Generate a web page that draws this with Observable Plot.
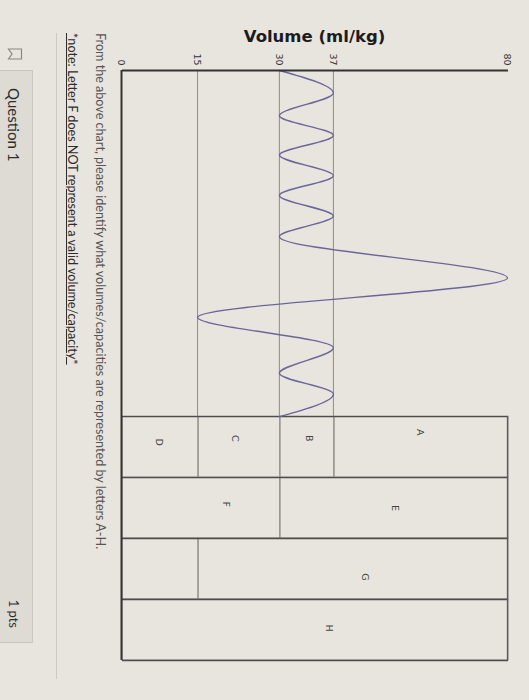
<!DOCTYPE html>
<html>
<head>
<meta charset="utf-8">
<script src="https://cdn.jsdelivr.net/npm/d3@7"></script>
<script src="https://cdn.jsdelivr.net/npm/@observablehq/plot@0.6"></script>
<style>
  html, body { margin: 0; padding: 0; width: 529px; height: 700px; overflow: hidden; background: #e7e4de; }
  #page {
    position: absolute; left: 0; top: 0; width: 700px; height: 529px;
    transform-origin: 0 0; transform: translate(529px, 0) rotate(90deg);
    background: #e8e5df; overflow: hidden;
    font-family: Lato, "Open Sans", sans-serif;
  }
  #chart { position: absolute; left: 0; top: 0; }
  #chart svg [aria-label="y-axis label"] { font-weight: bold; font-size: 16.5px; fill: #1c1c1c; }
  .q { position: absolute; left: 33px; font-size: 12.6px; line-height: 14px; white-space: nowrap; }
  #q1 { top: 422px; color: #555; }
  #q2 { top: 450px; color: #2d2d2d; text-decoration: underline; }
  #sep { position: absolute; left: 33px; top: 472px; width: 646px; height: 1px; background: #cdcac4; }
  #panel {
    position: absolute; left: 70px; top: 496px; width: 573px; height: 44px;
    background: #dedbd5; border: 1px solid #c9c6c0; box-sizing: border-box;
  }
  #qtitle { position: absolute; left: 17px; top: 9px; font-size: 15px; color: #2d2d2d; }
  #pts { position: absolute; right: 14px; top: 10px; font-size: 13px; color: #2d2d2d; }
  #mark { position: absolute; left: 47px; top: 506px; }
</style>
</head>
<body>
<div id="page">
  <div id="chart"></div>
  <div class="q" id="q1">From the above chart, please identify what volumes/capacities are represented by letters A-H.</div>
  <div class="q" id="q2">*note: Letter F does NOT represent a valid volume/capacity*</div>
  <div id="sep"></div>
  <svg id="mark" width="14" height="16" viewBox="0 0 14 16"><path d="M2 1.5 H12 V14.5 L7 11 L2 14.5 Z" fill="none" stroke="#8a8782" stroke-width="1.2"/></svg>
  <div id="panel"><span id="qtitle">Question 1</span><span id="pts">1 pts</span></div>
</div>
<script>
// Volume axis (ml/kg): tick values and their position along the schematic axis (0 = bottom, 1 = top)
const yTicks = [0, 15, 30, 37, 80];
const yTickFrac = [0, 0.197, 0.409, 0.549, 1];

// Spirogram trace: time (s) of each turning point and its volume
const traceTime   = [0, 2.3, 4.6, 6.6, 8.6, 10.7, 12.7, 14.8, 16.9, 21.1, 25.1, 28.2, 30.8, 32.9, 35.2];
const traceVolume = [30, 37, 30, 37, 30, 37, 30, 37, 30, 80, 15, 37, 30, 37, 30];

// Reference lines across the tracing
const gridVolume = [15, 30, 37];

// Volume / capacity boxes at the right
const columnEdge = [35.2, 41.4, 47.6, 53.8, 60];
const boxColumn  = [0, 0, 0, 0, 1, 1, 2, 2, 3];
const boxLow     = [0, 15, 30, 37, 0, 30, 0, 15, 0];
const boxHigh    = [15, 30, 37, 80, 30, 80, 15, 80, 80];

// Letters
const letters      = ["A", "B", "C", "D", "E", "F", "G", "H"];
const letterTime   = [36.8, 37.4, 37.4, 37.8, 44.5, 44.1, 51.5, 56.7];
const letterVolume = [58.3, 33.9, 21.8, 7.5, 52.3, 20.3, 44.7, 36.4];

const W = 700, H = 420, mt = 21, mb = 13, ml = 70, mr = 40;
const bottom = H - mb, span = H - mt - mb;
const yRange = yTickFrac.map(f => bottom - f * span);

const trace = traceTime.map((t, i) => ({t, v: traceVolume[i]}));
const boxes = boxColumn.map((c, i) => ({x1: columnEdge[c], x2: columnEdge[c + 1], y1: boxLow[i], y2: boxHigh[i]}));
const labels = letters.map((l, i) => ({l, t: letterTime[i], v: letterVolume[i]}));

const chart = Plot.plot({
  width: W, height: H,
  marginLeft: ml, marginRight: mr, marginTop: mt, marginBottom: mb,
  style: {fontFamily: "DejaVu Sans", fontSize: "9.5px", background: "transparent", color: "#333"},
  x: {domain: [0, 60], axis: null},
  y: {type: "linear", domain: yTicks, range: yRange, axis: null},
  marks: [
    Plot.ruleY(gridVolume, {x1: 0, x2: columnEdge[0], stroke: "#8c8c8c", strokeWidth: 1}),
    Plot.rect(boxes, {x1: "x1", x2: "x2", y1: "y1", y2: "y2", fill: "none", stroke: "#8c8c8c", strokeWidth: 1}),
    Plot.ruleX(columnEdge, {y1: 0, y2: 80, stroke: "#4d4d4d", strokeWidth: 1.4}),
    Plot.ruleY([80], {x1: columnEdge[0], x2: 60, stroke: "#5a5a5a", strokeWidth: 1.3}),
    Plot.line(trace, {x: "t", y: "v", curve: "monotone-x", stroke: "#6a6798", strokeWidth: 1.4}),
    Plot.text(labels, {x: "t", y: "v", text: "l", fill: "#444"}),
    Plot.ruleX([0], {stroke: "#333", strokeWidth: 2}),
    Plot.ruleY([0], {stroke: "#333", strokeWidth: 2}),
    Plot.axisY({
      ticks: yTicks, tickSize: 0, tickPadding: 5, tickFormat: d => String(d),
      label: "Volume (ml/kg)", labelAnchor: "center", labelOffset: 40, labelArrow: "none",
      fill: "#333"
    })
  ]
});
document.getElementById("chart").appendChild(chart);
</script>
</body>
</html>
